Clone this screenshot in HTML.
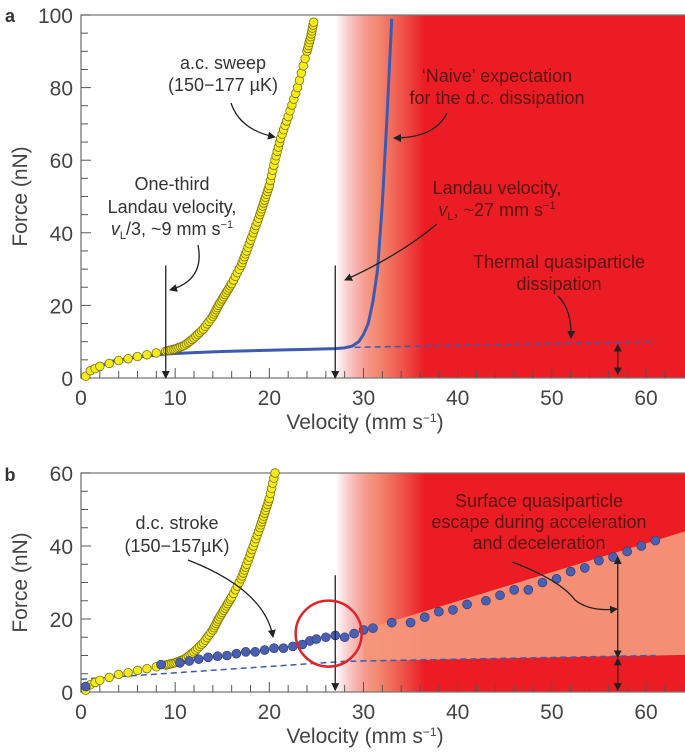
<!DOCTYPE html>
<html><head><meta charset="utf-8">
<style>
body{margin:0;background:#fff;}
svg{display:block;font-family:"Liberation Sans",sans-serif;}
.t{font-size:18px;fill:#333;}
.r{font-size:18px;fill:#5a1414;}
.tk{font-size:21px;fill:#444;}
</style></head>
<body>
<svg id="chart" width="685" height="755" viewBox="0 0 685 755">
<defs>
<linearGradient id="gr" x1="0" x2="1" y1="0" y2="0">
<stop offset="0" stop-color="#ec1c24" stop-opacity="0"/>
<stop offset="0.45" stop-color="#f07050" stop-opacity="0.8"/>
<stop offset="1" stop-color="#ec1c24" stop-opacity="1"/>
</linearGradient>
<marker id="ah" markerWidth="8" markerHeight="8" refX="7" refY="4" orient="auto" markerUnits="userSpaceOnUse"><path d="M0,0 L8,4 L0,8 Z" fill="#222"/></marker>
<marker id="ah2" markerWidth="8" markerHeight="8" refX="1" refY="4" orient="auto" markerUnits="userSpaceOnUse"><path d="M8,0 L0,4 L8,8 Z" fill="#222"/></marker>
</defs>
<g id="pa"></g>
<g id="pb"></g>
</svg>
<script>
// ---- data ----
const acV = [0.5,1,1.5,2,3,4,5,6,7,8,9,10,11,12,13,14,14.6,15.3,16,17,17.6,18.3,19,19.5,20,20.6,21.2,22,23,24,24.4,24.7];
const acF = [0.5,2,2.6,3.2,4,4.8,5.3,5.9,6.4,6.9,7.4,8,9,11,13.5,17,20,23,26,31,35,40,45,49,53,60,66,72,80,90,94,98];
const naiveV = [0,3,6,9,12,15,18,21,24,27,28,28.8,29.5,30,30.5,31,31.5,32,32.5,33];
const naiveF = [0,4.5,5.8,6.6,7,7.3,7.5,7.7,7.9,8.1,8.3,8.8,10,12,15,21,30,48,72,99];
const thermV = [0,28,61];
const thermF = [3.5,8.4,10];
const dcV = [0.5,8.5,10.5,11.5,12.5,13.5,14.5,15.5,16.5,17.5,18.5,19.5,20.5,21.5,22.5,23.5,24.3,25,26,27,28,29,30,31,33,35,36.5,38,39.5,41,43,44.5,46,47.5,49,50.5,52,53.5,55,56.5,58,59.5,61];
const dcF = [1.5,7.5,8,8.5,9,9.5,9.8,10,10.5,11,11,11.5,12,12,12.5,13,14,14.5,15,15.5,15,16,17,17.5,19,19,20.5,22,22.5,24,25,26.5,28,28,30,31,33,34,36,37,38.5,40,41.5];
const xTicks = [0,10,20,30,40,50,60];
const yTicksA = [0,20,40,60,80,100];
const yTicksB = [0,20,40,60];

const NS="http://www.w3.org/2000/svg";
function mk(parent,tag,attrs){const e=document.createElementNS(NS,tag);for(const k in attrs)e.setAttribute(k,attrs[k]);parent.appendChild(e);return e;}
const X0=81,X1=646;
const xs=v=>X0+(X1-X0)*v/60;

function panel(g,yTop,yBot,ymax,yTicks,isB){
  const ys=f=>yBot-(yBot-yTop)*f/ymax;
  const R=685;
  let e=mk(g,'rect',{x:xs(27),y:yTop,width:xs(36.5)-xs(27),height:yBot-yTop,fill:'url(#gr)'});
  
  e=mk(g,'rect',{x:xs(36.5)-0.5,y:yTop,width:R-xs(36.5)+0.5,height:yBot-yTop,fill:'#ec1c24'});
  
  if(isB){
    const fx=v=>8.4+(10-8.4)*(v-28)/33;
    const tx=v=>17+(44-17)*(v-30)/(64.5-30);
    e=mk(g,'polygon',{points:`${xs(30)},${ys(fx(30))} ${xs(30)},${ys(tx(30))} ${R},${ys(tx(64.5))} ${R},${ys(fx(64.5))}`,fill:'#f4967a',opacity:0.95});
    
  }
  e=mk(g,'path',{d:`M${R},${yTop} H${X0} V${yBot} H${R}`,fill:'none',stroke:'#777','stroke-width':1.3});
  
  for(let v=0;v<=64;v+=2){const l=(v%10==0)?10:7;mk(g,'line',{x1:xs(v),x2:xs(v),y1:yBot,y2:yBot-l,stroke:'#555','stroke-width':1});}
  for(let f=0;f<=ymax;f+=5){const l=(f%20==0)?10:7;mk(g,'line',{x1:X0,x2:X0+l,y1:ys(f),y2:ys(f),stroke:'#555','stroke-width':1});}
  xTicks.forEach(v=>{const t=mk(g,'text',{x:xs(v),y:yBot+27,'text-anchor':'middle',class:'tk'});t.textContent=v;
    });
  yTicks.forEach(f=>{const t=mk(g,'text',{x:X0-8,y:ys(f)+8,'text-anchor':'end',class:'tk'});t.textContent=f;
    });
  let t=mk(g,'text',{x:365,y:yBot+51,'text-anchor':'middle',class:'tk'});
  t.setAttribute('font-size','19');
  t.innerHTML='Velocity (mm s<tspan dy="-7" font-size="12">−1</tspan><tspan dy="7">)</tspan>';
  
  const cy=(yTop+yBot)/2;
  t=mk(g,'text',{x:27,y:cy,'text-anchor':'middle',class:'tk',transform:`rotate(-90 27 ${cy})`});t.textContent='Force (nN)';
  t.setAttribute('font-size','19');
  
  let d=(isB?thermV:thermV.slice(1)).map((v,i)=>(i?'L':'M')+xs(v)+','+ys((isB?thermF:thermF.slice(1))[i])).join(' ');
  e=mk(g,'path',{d,fill:'none',stroke:'#3c5bb0','stroke-width':1.5,'stroke-dasharray':'6,4'});
  
  if(!isB){
    d=naiveV.map((v,i)=>(i?'L':'M')+xs(v)+','+ys(naiveF[i])).join(' ');
    e=mk(g,'path',{d,fill:'none',stroke:'#3c5bb0','stroke-width':3});
    
  }
  const cg=mk(g,'g',{});
  
  for(let i=0;i<acV.length;i++){
    const n=(i==acV.length-1)?1:(acV[i]<9?1:5);
    for(let k=0;k<n;k++){
      const v=(i==acV.length-1)?acV[i]:acV[i]+(acV[i+1]-acV[i])*k/n;
      const f=(i==acV.length-1)?acF[i]:acF[i]+(acF[i+1]-acF[i])*k/n;
      if(f>ymax)continue;
      const c=mk(cg,'circle',{cx:xs(v),cy:ys(f),r:4.3,fill:'#f5ec1a',stroke:'#7a7010','stroke-width':0.8});
      
    }
  }
  if(isB){
    const dg=mk(g,'g',{});
    
    dcV.forEach((v,i)=>{const c=mk(dg,'circle',{cx:xs(v),cy:ys(dcF[i]),r:4.5,fill:'#4a5fb0',stroke:'#2a3570','stroke-width':0.6});
      });
  }
  return ys;
}
function txt(g,x,y,s,cls,name){const t=mk(g,'text',{x,y,'text-anchor':'middle',class:cls});t.innerHTML=s;return t;}
function arr(g,d,name,both){const a={d,fill:'none',stroke:'#222','stroke-width':1.3,'marker-end':'url(#ah)'};if(both)a['marker-start']='url(#ah2)';const e=mk(g,'path',a);}

const ga=document.getElementById('pa');
const ysA=panel(ga,15,378,100,yTicksA,false);
let L=txt(ga,10,22,'a','t','panel-label-a');L.setAttribute('font-weight','bold');L.setAttribute('font-size','19');
txt(ga,223,69,'a.c. sweep','t','ac-sweep-label');
txt(ga,223,91,'(150−177 µK)','t','ac-sweep-temp');
txt(ga,497,82,'‘Naive’ expectation','r','naive-label');
txt(ga,497,104,'for the d.c. dissipation','r','naive-label-2');
txt(ga,172,190,'One-third','t','one-third-label');
txt(ga,172,213,'Landau velocity,','t','one-third-label-2');
txt(ga,172,235,'<tspan font-style="italic">v</tspan><tspan font-size="11" dy="4">L</tspan><tspan dy="-4">/3, ~9 mm s</tspan><tspan font-size="11" dy="-7">−1</tspan>','t','one-third-label-3');
txt(ga,497,194,'Landau velocity,','r','landau-label');
txt(ga,497,216,'<tspan font-style="italic">v</tspan><tspan font-size="11" dy="4">L</tspan><tspan dy="-4">, ~27 mm s</tspan><tspan font-size="11" dy="-7">−1</tspan>','r','landau-label-2');
txt(ga,559,268,'Thermal quasiparticle','r','thermal-label');
txt(ga,559,290,'dissipation','r','thermal-label-2');
arr(ga,`M${xs(9)},${ysA(31)} V${ysA(0)}`,'one-third-arrow');
arr(ga,`M${xs(27)},${ysA(31)} V${ysA(0)}`,'landau-arrow');
arr(ga,'M198,245 Q205,280 170,290','one-third-callout');
arr(ga,'M437,224 Q400,255 345,280','landau-callout');
arr(ga,'M231,103 Q240,130 275,137','ac-callout');
arr(ga,'M447,113 Q435,138 394,138','naive-callout');
arr(ga,'M558,296 Q572,310 571,338','thermal-callout');
arr(ga,`M${xs(57)},${ysA(1)} V${ysA(9.2)}`,'thermal-double-arrow',true);

const gb=document.getElementById('pb');
const ysB=panel(gb,473,692,60,yTicksB,true);
L=txt(gb,10,481,'b','t','panel-label-b');L.setAttribute('font-weight','bold');L.setAttribute('font-size','19');
txt(gb,177,529,'d.c. stroke','t','dc-label');
txt(gb,177,552,'(150−157µK)','t','dc-label-temp');
txt(gb,539,507,'Surface quasiparticle','r','surface-label');
txt(gb,539,528,'escape during acceleration','r','surface-label-2');
txt(gb,539,549,'and deceleration','r','surface-label-3');
arr(gb,'M188,560 Q265,590 273,637','dc-callout');
arr(gb,'M512,562 Q560,580 575,600 Q590,612 617,609','surface-callout');
arr(gb,`M${xs(27)},${ysB(32)} V${ysB(0.5)}`,'landau-arrow-b');
arr(gb,`M${xs(57)},${ysB(9.5)} V${ysB(37)}`,'surface-double-arrow',true);
arr(gb,`M${xs(57)},${ysB(0.5)} V${ysB(9.2)}`,'thermal-double-arrow-b',true);
const ci=mk(gb,'ellipse',{cx:xs(26.3),cy:ysB(16),rx:33,ry:33,fill:'none',stroke:'#e0242a','stroke-width':2.5});

</script>
</body></html>
